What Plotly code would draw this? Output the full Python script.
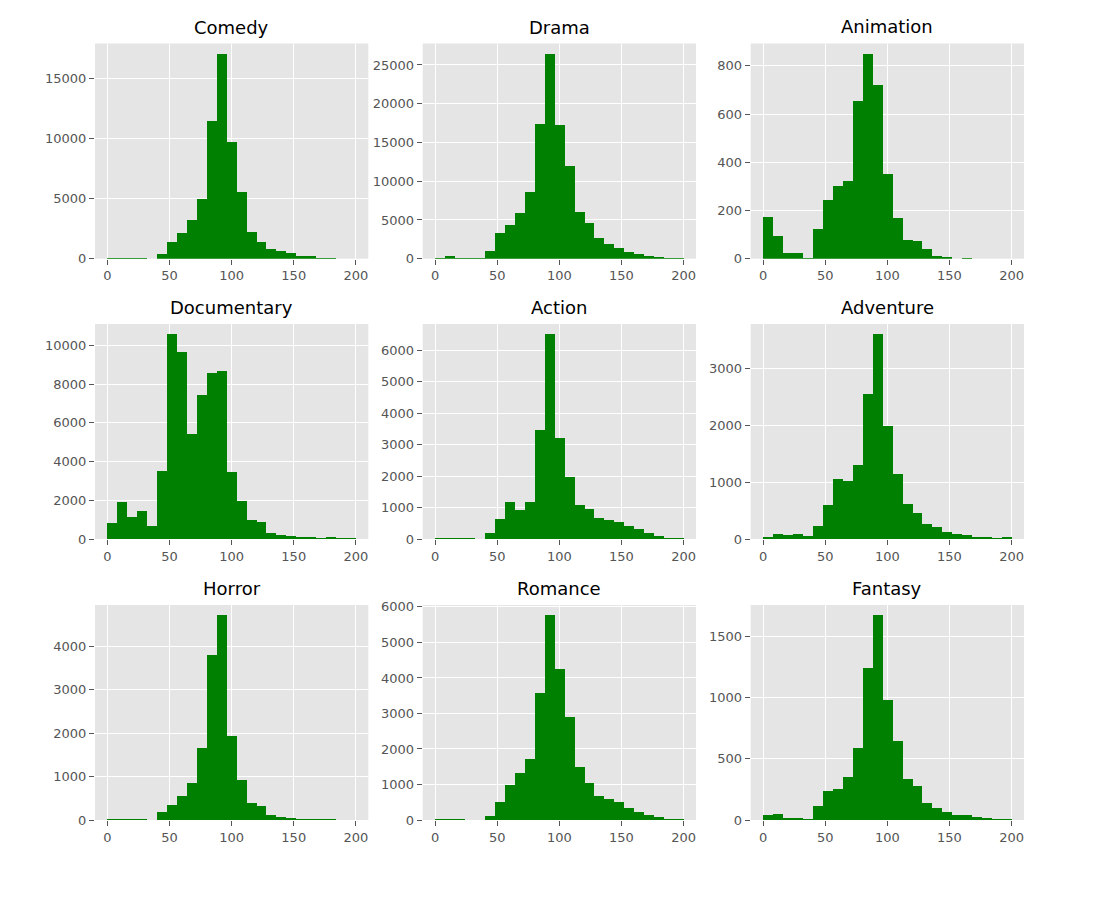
import plotly.graph_objects as go

# Bin edges: 25 bins of width 8 from 0 to 200
bin_width = 8
bin_starts = list(range(0, 200, 8))
bin_centers = [b + bin_width / 2 for b in bin_starts]

genres = ["Comedy", "Drama", "Animation", "Documentary", "Action",
          "Adventure", "Horror", "Romance", "Fantasy"]

comedy = [30, 30, 30, 30, 0, 460, 1450, 2200, 3270, 5000, 11480, 17030, 9780,
          5580, 2280, 1450, 880, 710, 550, 300, 300, 140, 140, 0, 0]
drama = [130, 470, 100, 100, 100, 1110, 3410, 4440, 5970, 8660, 17490, 26450,
         17360, 11990, 6100, 4690, 2770, 2000, 1490, 980, 725, 470, 340, 130, 130]
animation = [176, 97, 27, 27, 4, 126, 245, 303, 324, 657, 850, 723, 352, 171,
             81, 77, 44, 15, 11, 0, 4, 0, 0, 0, 0]
documentary = [820, 1900, 1115, 1424, 652, 3533, 10583, 9657, 5437, 7444, 8576,
               8679, 3482, 1990, 960, 858, 292, 189, 137, 86, 86, 34, 86, 34, 34]
action = [30, 30, 30, 30, 0, 200, 642, 1179, 926, 1179, 3453, 6516, 3200, 1968,
          1084, 958, 674, 610, 547, 421, 326, 200, 105, 30, 30]
adventure = [29, 82, 64, 82, 47, 222, 590, 1062, 1027, 1308, 2551, 3602, 1991,
             1150, 607, 450, 257, 204, 117, 82, 64, 29, 29, 12, 29]
horror = [15, 15, 15, 15, 0, 176, 337, 543, 864, 1667, 3801, 4719, 1943, 933,
          382, 314, 107, 61, 38, 15, 15, 15, 15, 0, 0]
romance = [18, 18, 18, 0, 0, 103, 495, 972, 1336, 1729, 3579, 5766, 4252, 2907,
           1505, 1028, 664, 579, 495, 327, 215, 131, 75, 18, 18]
fantasy = [38, 46, 14, 14, 5, 111, 241, 250, 355, 591, 1242, 1673, 982, 648,
           331, 274, 136, 95, 62, 38, 38, 22, 14, 5, 5]

series = [comedy, drama, animation, documentary, action,
          adventure, horror, romance, fantasy]
y_dticks = [5000, 5000, 200, 2000, 1000, 1000, 1000, 1000, 500]
x_ticks = [0, 50, 100, 150, 200]

W, H = 1099, 901
col_px = [(95, 368.3), (422.7, 696), (750.7, 1024)]
row_px = [(43.5, 258.7), (324, 539), (605, 820)]

fig = go.Figure()
layout_axes = {}
annotations = []
for i, (name, vals, dt) in enumerate(zip(genres, series, y_dticks)):
    r, c = divmod(i, 3)
    idx = i + 1
    xa = "x" if idx == 1 else f"x{idx}"
    ya = "y" if idx == 1 else f"y{idx}"
    fig.add_trace(go.Bar(
        x=bin_centers, y=vals, width=[bin_width] * len(vals),
        marker=dict(color="#008000", line=dict(width=0)),
        xaxis=xa, yaxis=ya, showlegend=False, hoverinfo="x+y"))
    xd = [col_px[c][0] / W, col_px[c][1] / W]
    yd = [1 - row_px[r][1] / H, 1 - row_px[r][0] / H]
    common = dict(showgrid=True, gridcolor="white", gridwidth=1,
                  zeroline=False, showline=False, ticks="outside",
                  ticklen=5, tickcolor="#555555", tickwidth=1,
                  automargin=False,
                  tickfont=dict(family="DejaVu Sans", size=13, color="#555555"))
    layout_axes["xaxis" if idx == 1 else f"xaxis{idx}"] = dict(
        domain=xd, range=[-10, 210], tickvals=x_ticks,
        anchor=ya, **common)
    layout_axes["yaxis" if idx == 1 else f"yaxis{idx}"] = dict(
        domain=yd, range=[0, max(vals) * 1.05], dtick=dt, tick0=0,
        tickformat="d", anchor=xa, **common)
    annotations.append(dict(
        text=name, x=(xd[0] + xd[1]) / 2, y=yd[1], xref="paper", yref="paper",
        xanchor="center", yanchor="bottom", yshift=4, showarrow=False,
        font=dict(family="DejaVu Sans", size=18, color="black")))

fig.update_layout(
    template="none",
    width=W, height=H, margin=dict(l=0, r=0, t=0, b=0, pad=0),
    paper_bgcolor="white", plot_bgcolor="#E5E5E5",
    annotations=annotations, bargap=0, **layout_axes)

fig.write_html("out.html")
